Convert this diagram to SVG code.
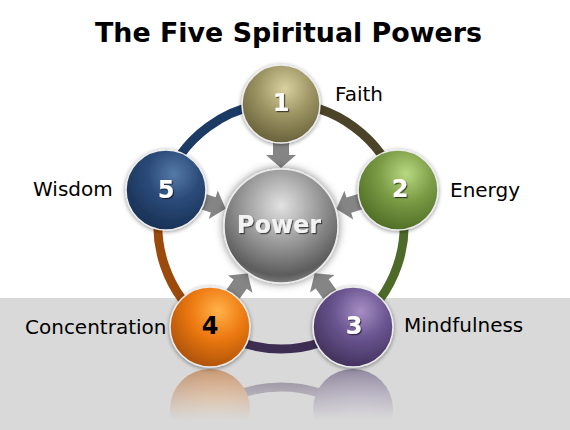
<svg xmlns="http://www.w3.org/2000/svg" width="570" height="430" viewBox="0 0 570 430">
<style>
.lbl{font-family:"DejaVu Sans","Liberation Sans",sans-serif;font-size:20px;fill:#000}
.num{font-family:"DejaVu Sans","Liberation Sans",sans-serif;font-size:24px;font-weight:bold;text-anchor:middle}
.ring{fill:none;stroke-width:9}
.arrow{fill:#858585}
.edge{stroke:#ececec;stroke-width:1.5}
</style>
<defs>
<filter id="sh" x="-30%" y="-30%" width="160%" height="160%">
<feDropShadow dx="0" dy="1" stdDeviation="2" flood-color="#000" flood-opacity="0.45"/>
</filter>
<filter id="shc" x="-30%" y="-30%" width="160%" height="160%">
<feDropShadow dx="0" dy="0" stdDeviation="4" flood-color="#000" flood-opacity="0.5"/>
</filter>
<filter id="ts" x="-20%" y="-20%" width="140%" height="140%">
<feDropShadow dx="1.2" dy="1.2" stdDeviation="0.6" flood-color="#000" flood-opacity="0.6"/>
</filter>
<radialGradient id="g1" cx="0.55" cy="0.3" r="0.75">
<stop offset="0" stop-color="#d9d2a0"/><stop offset="0.45" stop-color="#9e9664"/><stop offset="1" stop-color="#625b36"/>
</radialGradient>
<radialGradient id="g2" cx="0.6" cy="0.3" r="0.75">
<stop offset="0" stop-color="#b9d882"/><stop offset="0.45" stop-color="#7c9c46"/><stop offset="1" stop-color="#4c6a23"/>
</radialGradient>
<radialGradient id="g3" cx="0.6" cy="0.3" r="0.75">
<stop offset="0" stop-color="#a68ec4"/><stop offset="0.45" stop-color="#6a5590"/><stop offset="1" stop-color="#3f2e58"/>
</radialGradient>
<radialGradient id="g4" cx="0.6" cy="0.3" r="0.75">
<stop offset="0" stop-color="#ffb24a"/><stop offset="0.45" stop-color="#ee7a12"/><stop offset="1" stop-color="#a94f0a"/>
</radialGradient>
<radialGradient id="g5" cx="0.6" cy="0.3" r="0.75">
<stop offset="0" stop-color="#557aa8"/><stop offset="0.45" stop-color="#2a4a78"/><stop offset="1" stop-color="#172e52"/>
</radialGradient>
<radialGradient id="gc" cx="0.5" cy="0.32" r="0.72">
<stop offset="0" stop-color="#e2e2e2"/><stop offset="0.45" stop-color="#9c9c9c"/><stop offset="0.85" stop-color="#5c5c5c"/><stop offset="1" stop-color="#8c8c8c"/>
</radialGradient>
<linearGradient id="fade" x1="0" y1="368" x2="0" y2="420" gradientUnits="userSpaceOnUse">
<stop offset="0" stop-color="#fff" stop-opacity="0.5"/><stop offset="1" stop-color="#fff" stop-opacity="0"/>
</linearGradient>
<mask id="rm" maskUnits="userSpaceOnUse" x="0" y="360" width="570" height="70">
<rect x="0" y="368" width="570" height="62" fill="url(#fade)"/>
</mask>
<path id="arr" d="M58,0 L71,-15 L71,-8 L88,-8 L88,8 L71,8 L71,15 Z"/>
</defs>

<rect x="0" y="0" width="570" height="430" fill="#fff"/>
<rect x="0" y="298" width="570" height="132" fill="#d9d9d9"/>

<text x="95" y="42" font-family="DejaVu Sans, Liberation Sans, sans-serif" font-size="27" font-weight="bold" textLength="387" lengthAdjust="spacingAndGlyphs">The Five Spiritual Powers</text>

<g id="reflection" mask="url(#rm)">
<g transform="translate(0,736) scale(1,-1)">
<path d="M352.4,326.1 A123,123 0 0 1 210.3,326.6" class="ring" stroke="#3e2d52"/>
<circle cx="210" cy="327" r="40" fill="url(#g4)"/>
<circle cx="353" cy="327" r="40" fill="url(#g3)"/>
</g>
</g>

<g id="connectors">
<path d="M281,103 A123,123 0 0 1 398.6,189.8" class="ring" stroke="#4b4429"/>
<path d="M398.6,189.8 A123,123 0 0 1 352.4,326.1" class="ring" stroke="#4e6a28"/>
<path d="M352.4,326.1 A123,123 0 0 1 210.3,326.6" class="ring" stroke="#3e2d52"/>
<path d="M210.3,326.6 A123,123 0 0 1 163.6,189.2" class="ring" stroke="#9b4a0c"/>
<path d="M163.6,189.2 A123,123 0 0 1 281,103" class="ring" stroke="#1b3a64"/>
<g class="arrow" transform="translate(281,226)">
<use href="#arr" transform="rotate(-90)"/>
<use href="#arr" transform="rotate(-17.1)"/>
<use href="#arr" transform="rotate(54.5)"/>
<use href="#arr" transform="rotate(125.1)"/>
<use href="#arr" transform="rotate(197.4)"/>
</g>
</g>

<g id="power">
<circle cx="281" cy="226" r="57" fill="url(#gc)" class="edge" filter="url(#shc)"/>
<text x="279" y="233" class="num" fill="#f2f2f2" filter="url(#ts)">Power</text>
</g>

<g id="node1">
<circle cx="281" cy="104" r="39" fill="url(#g1)" class="edge" filter="url(#sh)"/>
<text x="281" y="111" class="num" fill="#fff" filter="url(#ts)">1</text>
<text x="335" y="101" class="lbl">Faith</text>
</g>
<g id="node2">
<circle cx="398" cy="190" r="40" fill="url(#g2)" class="edge" filter="url(#sh)"/>
<text x="400" y="197" class="num" fill="#fff" filter="url(#ts)">2</text>
<text x="450" y="197" class="lbl">Energy</text>
</g>
<g id="node3">
<circle cx="353" cy="327" r="40" fill="url(#g3)" class="edge" filter="url(#sh)"/>
<text x="354" y="334" class="num" fill="#fff" filter="url(#ts)">3</text>
<text x="404" y="332" class="lbl">Mindfulness</text>
</g>
<g id="node4">
<circle cx="210" cy="327" r="40" fill="url(#g4)" class="edge" filter="url(#sh)"/>
<text x="210" y="334" class="num" fill="#000">4</text>
<text x="25" y="334" class="lbl">Concentration</text>
</g>
<g id="node5">
<circle cx="166" cy="190" r="40" fill="url(#g5)" class="edge" filter="url(#sh)"/>
<text x="166" y="198" class="num" fill="#fff" filter="url(#ts)">5</text>
<text x="33" y="196" class="lbl">Wisdom</text>
</g>
</svg>
